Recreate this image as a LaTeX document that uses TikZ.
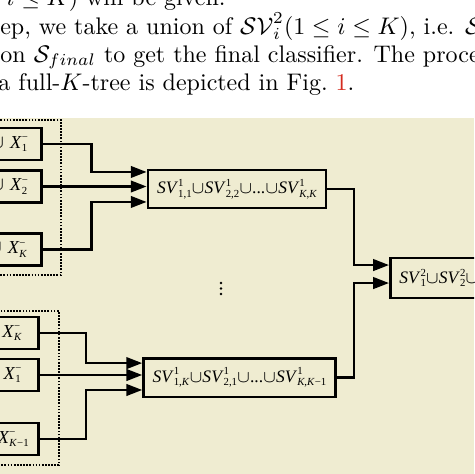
\documentclass[tikz,border=0pt]{standalone}
\usepackage{fontspec}
\usepackage{tikz}
\usetikzlibrary{arrows.meta}
\newfontfamily\wordfont{Liberation Serif}
\definecolor{hexcolor0xefecd1}{rgb}{0.937,0.925,0.820}
\definecolor{hexcolor0xd42a1e}{rgb}{0.831,0.165,0.118}
\definecolor{myblack}{rgb}{0.000,0.000,0.000}
\definecolor{mywhite}{rgb}{1.000,1.000,1.000}
\newcommand{\scr}[1]{{\fontsize{4.5}{5}\selectfont #1}}
\newcommand{\sv}[2]{\textit{SV}\makebox[0pt][l]{\raisebox{3.1pt}{\scr{#1}}}\raisebox{-1.4pt}{\scr{#2}}}
\newcommand{\xm}[1]{\textit{X}\makebox[0pt][l]{\raisebox{3.1pt}{\scr{−}}}\raisebox{-1.4pt}{\scr{#1}}}
\newcommand{\kk}{\textit{K}}
\newcommand{\un}{$\cup$}
\tikzstyle{para}=[inner sep=0pt,anchor=base west,font=\normalsize]
\tikzstyle{inbox}=[draw=myblack,fill=hexcolor0xefecd1,line width=1.2pt,anchor=east,minimum height=13.3pt,text width=26pt,align=right,inner xsep=6pt,font=\wordfont\fontsize{7.6}{9}\selectfont]
\tikzstyle{inboxB}=[inbox,text width=12pt,align=center,inner xsep=5pt]
\tikzstyle{setbox}=[draw=myblack,fill=hexcolor0xefecd1,line width=1.2pt,inner xsep=3.75pt,font=\wordfont\fontsize{7.3}{9}\selectfont]
\tikzstyle{group}=[draw=myblack,line width=0.8pt,dash pattern=on 0.7pt off 0.6pt]
\tikzstyle{wire}=[draw=myblack,line width=1pt,-{Triangle[length=6.6pt,width=4.8pt]}]

\begin{document}
\begin{tikzpicture}[x=0.4167pt,y=-0.4167pt]
	\useasboundingbox (0,0) rectangle (474,474);
	\clip (0,0) rectangle (474,474);
	\fill [mywhite] (0,0) rectangle (474,118);
	\fill [hexcolor0xefecd1] (0,118) rectangle (474,474);
	% text above the figure
	\node [para] (t0) at (-38,5) {$1\leq i\leq K$) will be given.};
	\node [para] (t1) at (-19,34) {step, we take a union of $\mathcal{SV}_i^2(1\leq i\leq K)$, i.e. $\mathcal{S}_{final}=\bigcup$};
	\node [para] (t2) at (0,62) {on $\mathcal{S}_{final}$ to get the final classifier. The procedure};
	\node [para] (t3) at (-2,90) {a full-$K$-tree is depicted in Fig.~\textcolor{hexcolor0xd42a1e}{1}.};
	% first level
	\draw [group] (-10,120) rectangle (61,275);
	\draw [group] (-10,311) rectangle (59,465);
	\node [inbox] (0) at (43,144) {\un\hspace{2.5pt}\xm{1}};
	\node [inbox] (1) at (43,186.5) {\un\hspace{2.5pt}\xm{2}};
	\node [inbox] (2) at (43,249.5) {\un\hspace{2.5pt}\xm{\kk}};
	\node [inboxB] (3) at (40,333) {\xm{\kk}};
	\node [inboxB] (4) at (40,375) {\xm{1}};
	\node [inboxB] (5) at (40,439) {\xm{\kk−1}};
	% second level
	\node [setbox,minimum width=71.7pt,minimum height=15.8pt] (6) at (237,189) {\sv{1}{1,1}\un\sv{1}{2,2}\un...\un\sv{1}{\kk,\kk}};
	\node [setbox,minimum width=72.9pt,minimum height=16.2pt] (7) at (239.5,377.5) {\sv{1}{1,\kk}\un\sv{1}{2,1}\un...\un\sv{1}{\kk,\kk−1}};
	\foreach \y in {283,288.5,294}
		\fill [myblack] (221,\y) circle [radius=0.6pt];
	% last level
	\node [setbox,anchor=west,minimum height=16.7pt] (8) at (389,278) {\sv{2}{1}\un\sv{2}{2}\un...\un\sv{2}{\kk}};
	% edges
	\draw [wire] (0.east) -| ([xshift=-22.9pt,yshift=7.1pt]6.west) -- ([yshift=7.1pt]6.west);
	\draw [wire] (1.east) -- (1.east -| 6.west);
	\draw [wire] (2.east) -| ([xshift=-22.9pt,yshift=-5.4pt]6.west) -- ([yshift=-5.4pt]6.west);
	\draw [wire] (3.east) -| ([xshift=-23.3pt,yshift=6pt]7.west) -- ([yshift=6pt]7.west);
	\draw [wire] (4.east) -- (4.east -| 7.west);
	\draw [wire] (5.east) -| ([xshift=-23.3pt,yshift=-5.2pt]7.west) -- ([yshift=-5.2pt]7.west);
	\draw [wire] (6.east) -| ([xshift=-14.6pt,yshift=5.4pt]8.west) -- ([yshift=5.4pt]8.west);
	\draw [wire] (7.east) -| ([xshift=-14.6pt,yshift=-2.1pt]8.west) -- ([yshift=-2.1pt]8.west);
\end{tikzpicture}
\end{document}
